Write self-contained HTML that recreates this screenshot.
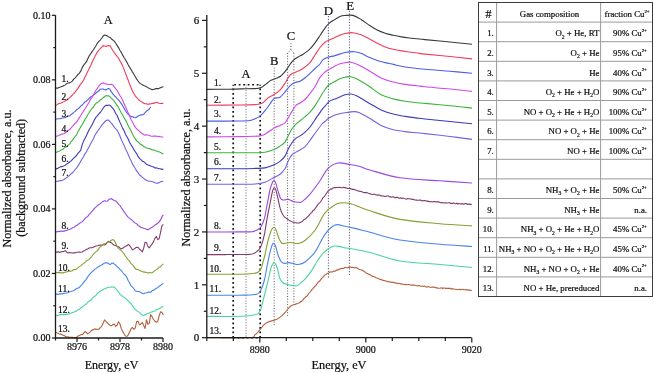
<!DOCTYPE html>
<html><head><meta charset="utf-8"><style>svg{will-change:transform} svg text{stroke:#111;stroke-width:0.22px} html,body{margin:0;padding:0;background:#fff;width:654px;height:373px;overflow:hidden;position:relative}</style></head>
<body><svg width="654" height="373" viewBox="0 0 654 373" style="position:absolute;left:0;top:0"><rect width="654" height="373" fill="#fff"/><path d="M55.50,87.98 L56.90,88.16 L58.30,87.86 L59.70,87.23 L61.10,86.81 L62.50,86.21 L63.90,85.62 L65.30,84.87 L66.70,83.62 L68.10,83.00 L69.50,82.92 L70.90,82.12 L72.30,81.07 L73.70,79.08 L75.10,77.82 L76.50,76.42 L77.90,74.53 L79.30,73.36 L80.70,71.16 L82.10,67.89 L83.50,65.39 L84.90,63.68 L86.30,61.90 L87.70,58.97 L89.10,56.11 L90.50,54.01 L91.90,51.85 L93.30,50.03 L94.70,47.81 L96.10,45.49 L97.50,42.98 L98.90,41.44 L100.30,40.03 L101.70,38.26 L103.10,36.03 L104.50,35.00 L105.90,35.30 L107.30,35.99 L108.70,36.89 L110.10,37.49 L111.50,39.06 L112.90,40.07 L114.30,41.15 L115.70,43.23 L117.10,45.42 L118.50,47.60 L119.90,50.23 L121.30,52.42 L122.70,55.14 L124.10,57.49 L125.50,59.71 L126.90,62.32 L128.30,64.94 L129.70,67.36 L131.10,69.60 L132.50,72.09 L133.90,74.20 L135.30,76.70 L136.70,79.15 L138.10,81.03 L139.50,82.82 L140.90,83.86 L142.30,84.77 L143.70,85.56 L145.10,86.09 L146.50,86.85 L147.90,87.61 L149.30,88.47 L150.70,89.01 L152.10,89.64 L153.50,89.43 L154.90,88.90 L156.30,88.64 L157.70,88.63 L159.10,88.37 L160.50,87.72 L161.90,87.15 L163.30,86.57" fill="none" stroke="#3a3a3a" stroke-width="1.1" stroke-linejoin="round"/><path d="M55.50,105.47 L56.90,104.90 L58.30,103.79 L59.70,103.24 L61.10,103.10 L62.50,102.36 L63.90,101.63 L65.30,100.72 L66.70,100.21 L68.10,99.10 L69.50,97.93 L70.90,96.52 L72.30,95.18 L73.70,93.50 L75.10,92.04 L76.50,90.36 L77.90,88.34 L79.30,86.10 L80.70,84.05 L82.10,82.35 L83.50,80.18 L84.90,77.24 L86.30,74.58 L87.70,71.56 L89.10,68.63 L90.50,65.97 L91.90,62.78 L93.30,59.84 L94.70,57.03 L96.10,54.30 L97.50,51.87 L98.90,49.95 L100.30,48.51 L101.70,47.13 L103.10,45.60 L104.50,46.01 L105.90,46.44 L107.30,45.87 L108.70,45.54 L110.10,45.82 L111.50,48.22 L112.90,50.73 L114.30,52.58 L115.70,54.68 L117.10,56.39 L118.50,57.97 L119.90,60.82 L121.30,63.30 L122.70,66.08 L124.10,69.64 L125.50,73.13 L126.90,77.02 L128.30,80.57 L129.70,84.58 L131.10,87.81 L132.50,90.93 L133.90,93.74 L135.30,95.99 L136.70,97.52 L138.10,99.20 L139.50,100.48 L140.90,101.38 L142.30,102.27 L143.70,103.31 L145.10,103.80 L146.50,103.74 L147.90,104.44 L149.30,103.82 L150.70,103.97 L152.10,103.36 L153.50,103.37 L154.90,102.83 L156.30,102.33 L157.70,102.71 L159.10,103.22 L160.50,103.48 L161.90,103.40 L163.30,103.41" fill="none" stroke="#f03c5a" stroke-width="1.1" stroke-linejoin="round"/><path d="M55.50,118.89 L56.90,118.98 L58.30,118.68 L59.70,118.72 L61.10,118.58 L62.50,117.97 L63.90,117.68 L65.30,117.73 L66.70,116.65 L68.10,116.02 L69.50,116.02 L70.90,114.64 L72.30,113.79 L73.70,112.36 L75.10,111.35 L76.50,109.82 L77.90,108.90 L79.30,107.77 L80.70,106.18 L82.10,105.04 L83.50,103.70 L84.90,101.97 L86.30,101.27 L87.70,99.89 L89.10,98.41 L90.50,97.00 L91.90,96.48 L93.30,94.99 L94.70,94.00 L96.10,92.96 L97.50,91.72 L98.90,90.77 L100.30,89.23 L101.70,88.96 L103.10,89.01 L104.50,89.73 L105.90,89.92 L107.30,89.04 L108.70,88.40 L110.10,89.40 L111.50,92.15 L112.90,93.87 L114.30,95.80 L115.70,96.94 L117.10,98.51 L118.50,99.97 L119.90,101.70 L121.30,103.66 L122.70,105.71 L124.10,108.41 L125.50,110.68 L126.90,112.94 L128.30,114.29 L129.70,115.79 L131.10,116.64 L132.50,116.59 L133.90,117.51 L135.30,117.73 L136.70,116.99 L138.10,116.04 L139.50,115.52 L140.90,114.76 L142.30,114.90 L143.70,114.26 L145.10,112.63 L146.50,111.05 L147.90,110.28 L149.30,108.99 L150.70,106.87" fill="none" stroke="#4c5ee6" stroke-width="1.1" stroke-linejoin="round"/><path d="M55.50,136.72 L56.90,136.07 L58.30,135.72 L59.70,135.00 L61.10,134.38 L62.50,134.07 L63.90,133.79 L65.30,132.77 L66.70,131.80 L68.10,130.48 L69.50,129.76 L70.90,128.21 L72.30,126.52 L73.70,124.86 L75.10,123.32 L76.50,122.20 L77.90,120.01 L79.30,117.87 L80.70,115.74 L82.10,113.20 L83.50,111.08 L84.90,109.00 L86.30,106.77 L87.70,104.55 L89.10,102.26 L90.50,99.35 L91.90,97.36 L93.30,95.04 L94.70,92.56 L96.10,90.03 L97.50,88.15 L98.90,85.80 L100.30,84.45 L101.70,83.32 L103.10,82.91 L104.50,83.23 L105.90,84.14 L107.30,84.19 L108.70,84.47 L110.10,84.52 L111.50,84.36 L112.90,84.89 L114.30,86.94 L115.70,88.74 L117.10,90.47 L118.50,92.74 L119.90,95.59 L121.30,97.55 L122.70,100.32 L124.10,103.85 L125.50,106.74 L126.90,110.05 L128.30,113.17 L129.70,116.23 L131.10,119.74 L132.50,121.95 L133.90,124.86 L135.30,127.19 L136.70,128.89 L138.10,130.04 L139.50,131.45 L140.90,132.76 L142.30,133.51 L143.70,134.66 L145.10,135.15 L146.50,134.83 L147.90,135.05 L149.30,135.42 L150.70,136.04 L152.10,136.18 L153.50,136.00 L154.90,136.15 L156.30,136.13 L157.70,136.42 L159.10,136.21 L160.50,136.75 L161.90,136.98 L163.30,137.11" fill="none" stroke="#cc48e8" stroke-width="1.1" stroke-linejoin="round"/><path d="M55.50,152.69 L56.90,152.10 L58.30,151.46 L59.70,150.89 L61.10,150.07 L62.50,149.53 L63.90,148.12 L65.30,147.27 L66.70,146.44 L68.10,145.08 L69.50,144.09 L70.90,141.94 L72.30,140.34 L73.70,138.33 L75.10,136.68 L76.50,134.85 L77.90,131.88 L79.30,129.44 L80.70,126.90 L82.10,124.77 L83.50,122.19 L84.90,119.44 L86.30,117.56 L87.70,114.77 L89.10,112.78 L90.50,110.46 L91.90,108.49 L93.30,107.22 L94.70,104.87 L96.10,103.16 L97.50,102.58 L98.90,101.39 L100.30,99.87 L101.70,99.22 L103.10,97.78 L104.50,96.74 L105.90,95.57 L107.30,96.01 L108.70,95.77 L110.10,96.82 L111.50,98.33 L112.90,99.48 L114.30,101.34 L115.70,103.29 L117.10,105.36 L118.50,107.57 L119.90,110.23 L121.30,112.94 L122.70,115.00 L124.10,117.91 L125.50,120.12 L126.90,122.67 L128.30,125.82 L129.70,128.39 L131.10,131.06 L132.50,133.94 L133.90,136.87 L135.30,138.89 L136.70,140.93 L138.10,141.67 L139.50,143.52 L140.90,144.63 L142.30,145.10 L143.70,146.65 L145.10,147.07 L146.50,147.94 L147.90,148.26 L149.30,148.63 L150.70,149.07 L152.10,149.96 L153.50,149.77 L154.90,150.51 L156.30,150.98 L157.70,151.60 L159.10,151.81 L160.50,152.45 L161.90,153.20 L163.30,154.00" fill="none" stroke="#3cb43c" stroke-width="1.1" stroke-linejoin="round"/><path d="M55.50,169.11 L56.90,168.64 L58.30,167.92 L59.70,167.28 L61.10,166.61 L62.50,166.59 L63.90,165.88 L65.30,165.14 L66.70,163.93 L68.10,163.27 L69.50,161.98 L70.90,161.13 L72.30,159.70 L73.70,158.10 L75.10,156.81 L76.50,155.53 L77.90,153.43 L79.30,151.92 L80.70,150.34 L82.10,145.07 L83.50,141.32 L84.90,138.46 L86.30,135.79 L87.70,132.66 L89.10,129.71 L90.50,127.58 L91.90,125.00 L93.30,122.17 L94.70,119.34 L96.10,117.03 L97.50,115.65 L98.90,113.72 L100.30,112.50 L101.70,110.45 L103.10,108.19 L104.50,106.52 L105.90,105.37 L107.30,105.41 L108.70,105.04 L110.10,105.41 L111.50,106.90 L112.90,108.34 L114.30,110.51 L115.70,113.43 L117.10,115.57 L118.50,118.77 L119.90,122.14 L121.30,125.13 L122.70,128.36 L124.10,130.81 L125.50,134.17 L126.90,136.72 L128.30,139.23 L129.70,142.41 L131.10,144.84 L132.50,147.10 L133.90,149.65 L135.30,151.70 L136.70,153.85 L138.10,156.41 L139.50,158.39 L140.90,159.62 L142.30,161.16 L143.70,161.64 L145.10,162.87 L146.50,164.28 L147.90,165.08 L149.30,165.39 L150.70,165.97 L152.10,166.50 L153.50,166.85 L154.90,167.99 L156.30,167.85 L157.70,168.35 L159.10,168.79 L160.50,168.76 L161.90,169.39 L163.30,169.09" fill="none" stroke="#3a3abc" stroke-width="1.1" stroke-linejoin="round"/><path d="M55.50,181.68 L56.90,181.26 L58.30,181.32 L59.70,180.62 L61.10,180.65 L62.50,180.24 L63.90,179.57 L65.30,178.83 L66.70,177.45 L68.10,176.68 L69.50,175.37 L70.90,174.04 L72.30,172.77 L73.70,171.54 L75.10,169.54 L76.50,168.11 L77.90,166.03 L79.30,163.89 L80.70,161.27 L82.10,158.78 L83.50,156.83 L84.90,153.83 L86.30,152.05 L87.70,149.30 L89.10,146.85 L90.50,144.12 L91.90,141.43 L93.30,138.96 L94.70,135.69 L96.10,133.34 L97.50,131.44 L98.90,129.31 L100.30,127.48 L101.70,125.29 L103.10,123.60 L104.50,122.02 L105.90,120.67 L107.30,119.91 L108.70,120.35 L110.10,121.76 L111.50,123.43 L112.90,125.08 L114.30,127.17 L115.70,128.83 L117.10,130.23 L118.50,132.84 L119.90,136.04 L121.30,139.51 L122.70,142.60 L124.10,145.42 L125.50,149.03 L126.90,151.53 L128.30,154.82 L129.70,158.14 L131.10,160.80 L132.50,164.11 L133.90,166.18 L135.30,168.72 L136.70,170.89 L138.10,172.85 L139.50,175.03 L140.90,175.82 L142.30,177.27 L143.70,178.38 L145.10,179.55 L146.50,180.18 L147.90,180.82 L149.30,181.27 L150.70,181.31 L152.10,181.81 L153.50,181.88 L154.90,182.82 L156.30,183.27 L157.70,183.16 L159.10,182.63 L160.50,181.84 L161.90,181.49 L163.30,181.28" fill="none" stroke="#7462e4" stroke-width="1.1" stroke-linejoin="round"/><path d="M55.50,231.61 L56.90,232.02 L58.30,231.33 L59.70,231.63 L61.10,231.09 L62.50,231.10 L63.90,231.46 L65.30,230.49 L66.70,230.38 L68.10,229.84 L69.50,229.42 L70.90,228.81 L72.30,227.85 L73.70,227.54 L75.10,226.27 L76.50,225.61 L77.90,224.41 L79.30,223.54 L80.70,222.59 L82.10,221.88 L83.50,220.31 L84.90,218.70 L86.30,217.38 L87.70,216.47 L89.10,214.40 L90.50,213.20 L91.90,211.38 L93.30,209.94 L94.70,208.08 L96.10,206.80 L97.50,205.54 L98.90,204.54 L100.30,203.60 L101.70,202.41 L103.10,201.42 L104.50,200.68 L105.90,201.04 L107.30,201.20 L108.70,199.63 L110.10,198.80 L111.50,198.84 L112.90,199.68 L114.30,200.53 L115.70,200.85 L117.10,202.43 L118.50,204.33 L119.90,205.34 L121.30,207.82 L122.70,209.44 L124.10,211.94 L125.50,213.75 L126.90,215.68 L128.30,217.36 L129.70,218.43 L131.10,219.40 L132.50,220.55 L133.90,221.99 L135.30,223.13 L136.70,223.85 L138.10,225.46 L139.50,226.21 L140.90,227.37 L142.30,227.74 L143.70,228.27 L145.10,228.62 L146.50,229.37 L147.90,229.84 L149.30,228.98 L150.70,227.98 L152.10,227.33 L153.50,226.47 L154.90,225.06 L156.30,224.31 L157.70,223.25 L159.10,222.14 L160.50,219.90 L161.90,216.90 L163.30,214.84" fill="none" stroke="#9a48e0" stroke-width="1.1" stroke-linejoin="round"/><path d="M55.50,252.17 L56.90,252.09 L58.30,251.87 L59.70,252.53 L61.10,251.76 L62.50,251.67 L63.90,251.35 L65.30,250.65 L66.70,252.09 L68.10,253.00 L69.50,252.44 L70.90,252.70 L72.30,252.95 L73.70,252.68 L75.10,252.84 L76.50,252.22 L77.90,252.19 L79.30,251.97 L80.70,252.21 L82.10,251.93 L83.50,250.93 L84.90,250.40 L86.30,249.35 L87.70,249.06 L89.10,248.03 L90.50,247.75 L91.90,247.64 L93.30,247.23 L94.70,246.58 L96.10,245.93 L97.50,245.74 L98.90,245.34 L100.30,245.07 L101.70,245.35 L103.10,244.60 L104.50,245.02 L105.90,244.19 L107.30,242.27 L108.70,241.39 L110.10,242.38 L111.50,242.84 L112.90,244.09 L114.30,245.32 L115.70,245.33 L117.10,246.48 L118.50,246.76 L119.90,247.87 L121.30,248.86 L122.70,248.25 L124.10,247.18 L125.50,246.36 L126.90,245.80 L128.30,244.37 L129.70,245.61 L131.10,247.74 L132.50,249.88 L133.90,249.17 L135.30,248.08 L136.70,247.23 L138.10,247.42 L139.50,249.23 L140.90,250.23 L142.30,252.00 L143.70,248.12 L145.10,242.19 L146.50,242.57 L147.90,246.34 L149.30,247.92 L150.70,245.71 L152.10,244.05 L153.50,241.61 L154.90,238.38 L156.30,236.46 L157.70,239.64 L159.10,238.82 L160.50,232.59 L161.90,225.87 L163.30,224.43" fill="none" stroke="#843a6c" stroke-width="1.1" stroke-linejoin="round"/><path d="M55.50,272.66 L56.90,272.54 L58.30,272.66 L59.70,272.36 L61.10,272.85 L62.50,272.86 L63.90,272.65 L65.30,271.93 L66.70,271.89 L68.10,271.41 L69.50,271.02 L70.90,271.17 L72.30,270.75 L73.70,269.54 L75.10,269.74 L76.50,269.08 L77.90,267.81 L79.30,266.64 L80.70,265.86 L82.10,264.59 L83.50,263.66 L84.90,262.50 L86.30,260.93 L87.70,260.30 L89.10,259.33 L90.50,257.96 L91.90,256.25 L93.30,254.37 L94.70,252.92 L96.10,251.56 L97.50,250.59 L98.90,248.47 L100.30,246.90 L101.70,245.71 L103.10,244.21 L104.50,243.81 L105.90,243.13 L107.30,242.24 L108.70,242.07 L110.10,241.50 L111.50,240.18 L112.90,239.47 L114.30,240.63 L115.70,243.13 L117.10,246.30 L118.50,248.61 L119.90,249.55 L121.30,250.52 L122.70,252.28 L124.10,253.80 L125.50,256.21 L126.90,258.03 L128.30,259.97 L129.70,261.33 L131.10,263.61 L132.50,264.80 L133.90,266.58 L135.30,268.60 L136.70,269.41 L138.10,269.70 L139.50,270.38 L140.90,270.95 L142.30,271.46 L143.70,272.10 L145.10,272.11 L146.50,272.43 L147.90,273.06 L149.30,272.63 L150.70,272.82 L152.10,272.76 L153.50,271.80 L154.90,270.63 L156.30,269.60 L157.70,268.74 L159.10,267.37 L160.50,266.70 L161.90,265.17 L163.30,263.93" fill="none" stroke="#84a234" stroke-width="1.1" stroke-linejoin="round"/><path d="M55.50,294.16 L56.90,294.16 L58.30,294.37 L59.70,293.91 L61.10,293.86 L62.50,293.84 L63.90,293.37 L65.30,293.25 L66.70,292.96 L68.10,292.71 L69.50,291.77 L70.90,291.55 L72.30,291.00 L73.70,290.75 L75.10,289.80 L76.50,288.41 L77.90,288.31 L79.30,287.43 L80.70,285.80 L82.10,284.34 L83.50,282.55 L84.90,280.88 L86.30,279.28 L87.70,276.89 L89.10,274.98 L90.50,273.48 L91.90,271.89 L93.30,270.81 L94.70,269.37 L96.10,268.40 L97.50,267.31 L98.90,266.58 L100.30,265.63 L101.70,264.93 L103.10,263.94 L104.50,262.97 L105.90,262.71 L107.30,262.83 L108.70,263.78 L110.10,264.60 L111.50,263.39 L112.90,262.99 L114.30,264.13 L115.70,265.05 L117.10,266.69 L118.50,267.63 L119.90,269.42 L121.30,270.49 L122.70,272.52 L124.10,274.19 L125.50,275.27 L126.90,277.52 L128.30,280.75 L129.70,283.07 L131.10,285.90 L132.50,287.22 L133.90,288.75 L135.30,290.71 L136.70,291.35 L138.10,291.46 L139.50,291.83 L140.90,292.54 L142.30,293.57 L143.70,293.75 L145.10,292.95 L146.50,292.78 L147.90,292.38 L149.30,292.07 L150.70,292.25 L152.10,290.86 L153.50,290.27 L154.90,289.29 L156.30,288.19 L157.70,287.70 L159.10,286.20 L160.50,285.59 L161.90,284.15 L163.30,283.38" fill="none" stroke="#4a84e8" stroke-width="1.1" stroke-linejoin="round"/><path d="M55.50,315.68 L56.90,315.63 L58.30,315.45 L59.70,314.83 L61.10,314.53 L62.50,314.63 L63.90,314.37 L65.30,314.62 L66.70,314.34 L68.10,314.09 L69.50,313.75 L70.90,313.38 L72.30,312.50 L73.70,312.28 L75.10,311.36 L76.50,311.17 L77.90,309.70 L79.30,309.51 L80.70,307.86 L82.10,307.27 L83.50,305.92 L84.90,304.88 L86.30,304.07 L87.70,302.25 L89.10,301.13 L90.50,300.53 L91.90,298.81 L93.30,297.07 L94.70,296.39 L96.10,295.14 L97.50,293.31 L98.90,292.40 L100.30,291.01 L101.70,290.37 L103.10,289.84 L104.50,288.69 L105.90,288.44 L107.30,287.50 L108.70,287.18 L110.10,287.28 L111.50,286.92 L112.90,286.94 L114.30,287.08 L115.70,288.51 L117.10,290.37 L118.50,292.03 L119.90,294.03 L121.30,295.38 L122.70,296.54 L124.10,297.45 L125.50,298.39 L126.90,299.58 L128.30,301.02 L129.70,302.34 L131.10,303.74 L132.50,305.68 L133.90,307.63 L135.30,309.31 L136.70,310.70 L138.10,311.61 L139.50,312.39 L140.90,314.13 L142.30,314.90 L143.70,315.66 L145.10,314.70 L146.50,314.13 L147.90,313.37 L149.30,313.09 L150.70,312.10 L152.10,312.00 L153.50,311.24 L154.90,311.02 L156.30,309.80 L157.70,309.31 L159.10,308.68 L160.50,308.08 L161.90,306.79 L163.30,306.29" fill="none" stroke="#48d49c" stroke-width="1.1" stroke-linejoin="round"/><path d="M55.50,331.98 L56.90,332.90 L58.30,333.44 L59.70,334.12 L61.10,334.17 L62.50,334.91 L63.90,335.53 L65.30,336.30 L66.70,337.06 L68.10,336.78 L69.50,337.40 L70.90,337.34 L72.30,337.42 L73.70,337.54 L75.10,337.90 L76.50,337.37 L77.90,336.08 L79.30,335.55 L80.70,334.75 L82.10,334.72 L83.50,333.47 L84.90,331.58 L86.30,332.44 L87.70,333.82 L89.10,332.89 L90.50,331.64 L91.90,330.12 L93.30,329.91 L94.70,328.85 L96.10,329.21 L97.50,329.40 L98.90,329.14 L100.30,327.68 L101.70,326.34 L103.10,323.35 L104.50,319.89 L105.90,321.49 L107.30,322.76 L108.70,324.24 L110.10,325.37 L111.50,325.85 L112.90,324.62 L114.30,324.08 L115.70,326.45 L117.10,325.24 L118.50,321.84 L119.90,323.74 L121.30,328.72 L122.70,331.40 L124.10,334.02 L125.50,336.03 L126.90,336.33 L128.30,334.81 L129.70,331.69 L131.10,328.66 L132.50,327.51 L133.90,329.29 L135.30,327.85 L136.70,321.45 L138.10,321.24 L139.50,324.85 L140.90,323.95 L142.30,322.37 L143.70,325.47 L145.10,328.39 L146.50,319.69 L147.90,324.42 L149.30,323.35 L150.70,314.66 L152.10,316.74 L153.50,319.48 L154.90,321.25 L156.30,322.30 L157.70,321.58 L159.10,316.16 L160.50,311.86 L161.90,312.25 L163.30,314.93" fill="none" stroke="#b0603c" stroke-width="1.1" stroke-linejoin="round"/><path d="M55.5,15.3 V338 H163" fill="none" stroke="#1a1a1a" stroke-width="1.3"/><line x1="51.9" y1="338.00" x2="55.5" y2="338.00" stroke="#1a1a1a" stroke-width="1.2"/><line x1="53.3" y1="305.73" x2="55.5" y2="305.73" stroke="#1a1a1a" stroke-width="1.2"/><line x1="51.9" y1="273.46" x2="55.5" y2="273.46" stroke="#1a1a1a" stroke-width="1.2"/><line x1="53.3" y1="241.19" x2="55.5" y2="241.19" stroke="#1a1a1a" stroke-width="1.2"/><line x1="51.9" y1="208.92" x2="55.5" y2="208.92" stroke="#1a1a1a" stroke-width="1.2"/><line x1="53.3" y1="176.65" x2="55.5" y2="176.65" stroke="#1a1a1a" stroke-width="1.2"/><line x1="51.9" y1="144.38" x2="55.5" y2="144.38" stroke="#1a1a1a" stroke-width="1.2"/><line x1="53.3" y1="112.11" x2="55.5" y2="112.11" stroke="#1a1a1a" stroke-width="1.2"/><line x1="51.9" y1="79.84" x2="55.5" y2="79.84" stroke="#1a1a1a" stroke-width="1.2"/><line x1="53.3" y1="47.57" x2="55.5" y2="47.57" stroke="#1a1a1a" stroke-width="1.2"/><line x1="51.9" y1="15.30" x2="55.5" y2="15.30" stroke="#1a1a1a" stroke-width="1.2"/><text x="50.5" y="341.40" font-family="'Liberation Serif', serif" font-size="10" text-anchor="end" fill="#111">0.00</text><text x="50.5" y="276.86" font-family="'Liberation Serif', serif" font-size="10" text-anchor="end" fill="#111">0.02</text><text x="50.5" y="212.32" font-family="'Liberation Serif', serif" font-size="10" text-anchor="end" fill="#111">0.04</text><text x="50.5" y="147.78" font-family="'Liberation Serif', serif" font-size="10" text-anchor="end" fill="#111">0.06</text><text x="50.5" y="83.24" font-family="'Liberation Serif', serif" font-size="10" text-anchor="end" fill="#111">0.08</text><text x="50.5" y="18.70" font-family="'Liberation Serif', serif" font-size="10" text-anchor="end" fill="#111">0.10</text><line x1="55.50" y1="338" x2="55.50" y2="340.5" stroke="#1a1a1a" stroke-width="1.2"/><line x1="77.00" y1="338" x2="77.00" y2="342" stroke="#1a1a1a" stroke-width="1.2"/><line x1="98.50" y1="338" x2="98.50" y2="340.5" stroke="#1a1a1a" stroke-width="1.2"/><line x1="120.00" y1="338" x2="120.00" y2="342" stroke="#1a1a1a" stroke-width="1.2"/><line x1="141.50" y1="338" x2="141.50" y2="340.5" stroke="#1a1a1a" stroke-width="1.2"/><line x1="163.00" y1="338" x2="163.00" y2="342" stroke="#1a1a1a" stroke-width="1.2"/><text x="77.00" y="350.2" font-family="'Liberation Serif', serif" font-size="10" text-anchor="middle" fill="#111">8976</text><text x="120.00" y="350.2" font-family="'Liberation Serif', serif" font-size="10" text-anchor="middle" fill="#111">8978</text><text x="163.00" y="350.2" font-family="'Liberation Serif', serif" font-size="10" text-anchor="middle" fill="#111">8980</text><text x="111.5" y="368.6" font-family="'Liberation Serif', serif" font-size="12" text-anchor="middle" fill="#111">Energy, eV</text><text x="108.3" y="23.7" font-family="'Liberation Serif', serif" font-size="12.4" text-anchor="middle" fill="#111">A</text><text x="61.4" y="81.50" font-family="'Liberation Serif', serif" font-size="9.5" fill="#111">1.</text><text x="61.4" y="99.50" font-family="'Liberation Serif', serif" font-size="9.5" fill="#111">2.</text><text x="61.4" y="117.00" font-family="'Liberation Serif', serif" font-size="9.5" fill="#111">3.</text><text x="61.4" y="131.60" font-family="'Liberation Serif', serif" font-size="9.5" fill="#111">4.</text><text x="61.4" y="147.20" font-family="'Liberation Serif', serif" font-size="9.5" fill="#111">5.</text><text x="61.4" y="162.30" font-family="'Liberation Serif', serif" font-size="9.5" fill="#111">6.</text><text x="61.4" y="176.30" font-family="'Liberation Serif', serif" font-size="9.5" fill="#111">7.</text><text x="61.4" y="228.70" font-family="'Liberation Serif', serif" font-size="9.5" fill="#111">8.</text><text x="61.4" y="249.00" font-family="'Liberation Serif', serif" font-size="9.5" fill="#111">9.</text><text x="58" y="271.40" font-family="'Liberation Serif', serif" font-size="9.5" fill="#111">10.</text><text x="58" y="291.80" font-family="'Liberation Serif', serif" font-size="9.5" fill="#111">11.</text><text x="58" y="313.00" font-family="'Liberation Serif', serif" font-size="9.5" fill="#111">12.</text><text x="58" y="332.20" font-family="'Liberation Serif', serif" font-size="9.5" fill="#111">13.</text><text transform="translate(10.6,178.5) rotate(-90)" font-family="'Liberation Serif', serif" font-size="12.1" text-anchor="middle" fill="#111">Normalized absorbance, a.u.</text><text transform="translate(24.8,177.8) rotate(-90)" font-family="'Liberation Serif', serif" font-size="12.1" text-anchor="middle" fill="#111">(background subtracted)</text><text transform="translate(189.5,177.6) rotate(-90)" font-family="'Liberation Serif', serif" font-size="12.1" text-anchor="middle" fill="#111">Normalized absorbance, a.u.</text><line x1="246" y1="84.5" x2="246" y2="337.7" stroke="#555" stroke-width="0.9" stroke-dasharray="1 1.7"/><line x1="274.2" y1="67.7" x2="274.2" y2="325.4" stroke="#444" stroke-width="0.9" stroke-dasharray="1 1.7"/><line x1="287.6" y1="53" x2="287.6" y2="317.4" stroke="#444" stroke-width="0.9" stroke-dasharray="1 1.7"/><line x1="293.9" y1="53" x2="293.9" y2="306.7" stroke="#444" stroke-width="0.9" stroke-dasharray="1 1.7"/><path d="M290.9,43.3 V49.7 L287.6,53 M290.9,49.7 L293.9,53" fill="none" stroke="#444" stroke-width="0.9" stroke-dasharray="1 1.7"/><line x1="328.4" y1="16" x2="328.4" y2="279" stroke="#3c4470" stroke-width="0.9" stroke-dasharray="1.2 1.6"/><line x1="349.4" y1="10.7" x2="349.4" y2="275" stroke="#3c4470" stroke-width="0.9" stroke-dasharray="1.2 1.6"/><path d="M233.2,337.7 V84.7" fill="none" stroke="#111" stroke-width="1.7" stroke-dasharray="1.8 2.7"/><path d="M260.2,337.7 V84.7" fill="none" stroke="#111" stroke-width="1.7" stroke-dasharray="1.8 2.7"/><path d="M234.2,84.7 H259.5" fill="none" stroke="#111" stroke-width="1.6" stroke-dasharray="1.8 2.7"/><path d="M233.2,337.7 H260.2" fill="none" stroke="#111" stroke-width="1.6" stroke-dasharray="1.8 2.7"/><path d="M206.70,89.40 C210.58,89.37 223.45,89.30 230.00,89.20 C236.55,89.10 241.83,88.90 246.00,88.80 C250.17,88.70 253.00,88.67 255.00,88.60 C257.00,88.53 256.97,88.57 258.00,88.40 C259.03,88.23 260.13,88.13 261.20,87.60 C262.27,87.07 263.33,86.00 264.40,85.20 C265.47,84.40 266.52,83.62 267.60,82.80 C268.68,81.98 269.82,80.92 270.90,80.30 C271.98,79.68 273.03,79.50 274.10,79.10 C275.17,78.70 276.23,78.37 277.30,77.90 C278.37,77.43 279.43,77.10 280.50,76.30 C281.57,75.50 282.63,74.30 283.70,73.10 C284.77,71.90 285.83,70.57 286.90,69.10 C287.97,67.63 289.03,65.77 290.10,64.30 C291.17,62.83 291.98,61.52 293.30,60.30 C294.62,59.08 296.55,57.88 298.00,57.00 C299.45,56.12 300.83,55.68 302.00,55.00 C303.17,54.32 303.67,53.92 305.00,52.90 C306.33,51.88 308.33,50.58 310.00,48.90 C311.67,47.22 313.33,45.03 315.00,42.80 C316.67,40.57 318.33,37.95 320.00,35.50 C321.67,33.05 323.50,30.12 325.00,28.10 C326.50,26.08 327.33,24.85 329.00,23.40 C330.67,21.95 333.17,20.57 335.00,19.40 C336.83,18.23 338.33,17.05 340.00,16.40 C341.67,15.75 342.83,15.67 345.00,15.50 C347.17,15.33 350.32,14.73 353.00,15.40 C355.68,16.07 358.42,17.88 361.10,19.50 C363.78,21.12 366.42,23.35 369.10,25.10 C371.78,26.85 374.52,28.65 377.20,30.00 C379.88,31.35 382.52,32.32 385.20,33.20 C387.88,34.08 390.62,34.68 393.30,35.30 C395.98,35.92 398.62,36.45 401.30,36.90 C403.98,37.35 406.72,37.68 409.40,38.00 C412.08,38.32 414.80,38.53 417.40,38.80 C420.00,39.07 419.57,39.07 425.00,39.60 C430.43,40.13 442.17,41.22 450.00,42.00 C457.83,42.78 468.33,43.92 472.00,44.30" fill="none" stroke="#3a3a3a" stroke-width="1.1" stroke-linejoin="round"/><path d="M206.70,105.20 C212.25,105.17 231.95,105.10 240.00,105.00 C248.05,104.90 251.33,104.88 255.00,104.60 C258.67,104.32 259.83,104.42 262.00,103.30 C264.17,102.18 266.00,99.37 268.00,97.90 C270.00,96.43 272.00,95.80 274.00,94.50 C276.00,93.20 278.17,91.98 280.00,90.10 C281.83,88.22 283.33,85.70 285.00,83.20 C286.67,80.70 288.33,76.90 290.00,75.10 C291.67,73.30 293.33,73.22 295.00,72.40 C296.67,71.58 298.33,71.10 300.00,70.20 C301.67,69.30 303.33,68.25 305.00,67.00 C306.67,65.75 308.33,64.70 310.00,62.70 C311.67,60.70 313.33,57.53 315.00,55.00 C316.67,52.47 318.33,49.63 320.00,47.50 C321.67,45.37 323.50,43.42 325.00,42.20 C326.50,40.98 327.33,40.98 329.00,40.20 C330.67,39.42 333.17,38.33 335.00,37.50 C336.83,36.67 338.33,35.87 340.00,35.20 C341.67,34.53 342.83,33.92 345.00,33.50 C347.17,33.08 350.32,32.48 353.00,32.70 C355.68,32.92 358.42,33.78 361.10,34.80 C363.78,35.82 366.42,37.38 369.10,38.80 C371.78,40.22 374.52,41.95 377.20,43.30 C379.88,44.65 382.52,45.90 385.20,46.90 C387.88,47.90 390.62,48.63 393.30,49.30 C395.98,49.97 398.62,50.45 401.30,50.90 C403.98,51.35 406.72,51.65 409.40,52.00 C412.08,52.35 414.80,52.65 417.40,53.00 C420.00,53.35 419.57,53.52 425.00,54.10 C430.43,54.68 442.17,55.70 450.00,56.50 C457.83,57.30 468.33,58.50 472.00,58.90" fill="none" stroke="#f03c5a" stroke-width="1.1" stroke-linejoin="round"/><path d="M206.70,121.10 C212.25,121.08 232.78,121.10 240.00,121.00 C247.22,120.90 247.50,120.87 250.00,120.50 C252.50,120.13 253.33,119.53 255.00,118.80 C256.67,118.07 258.33,117.45 260.00,116.10 C261.67,114.75 263.33,112.72 265.00,110.70 C266.67,108.68 268.50,106.02 270.00,104.00 C271.50,101.98 272.33,99.73 274.00,98.60 C275.67,97.47 278.17,98.32 280.00,97.20 C281.83,96.08 283.33,93.80 285.00,91.90 C286.67,90.00 288.33,87.37 290.00,85.80 C291.67,84.23 293.33,83.27 295.00,82.50 C296.67,81.73 298.33,81.98 300.00,81.20 C301.67,80.42 303.33,79.10 305.00,77.80 C306.67,76.50 308.33,74.95 310.00,73.40 C311.67,71.85 313.33,70.07 315.00,68.50 C316.67,66.93 318.67,65.48 320.00,64.00 C321.33,62.52 321.67,60.73 323.00,59.60 C324.33,58.47 326.00,57.87 328.00,57.20 C330.00,56.53 332.17,56.38 335.00,55.60 C337.83,54.82 341.72,53.15 345.00,52.50 C348.28,51.85 352.02,51.57 354.70,51.70 C357.38,51.83 358.70,52.37 361.10,53.30 C363.50,54.23 366.42,56.10 369.10,57.30 C371.78,58.50 374.52,59.62 377.20,60.50 C379.88,61.38 382.52,61.95 385.20,62.60 C387.88,63.25 389.97,63.67 393.30,64.40 C396.63,65.13 399.92,66.18 405.20,67.00 C410.48,67.82 417.53,68.58 425.00,69.30 C432.47,70.02 442.17,70.65 450.00,71.30 C457.83,71.95 468.33,72.88 472.00,73.20" fill="none" stroke="#4c5ee6" stroke-width="1.1" stroke-linejoin="round"/><path d="M206.70,136.90 C212.25,136.85 231.95,136.72 240.00,136.60 C248.05,136.48 251.67,136.32 255.00,136.20 C258.33,136.08 258.33,136.23 260.00,135.90 C261.67,135.57 263.33,135.05 265.00,134.20 C266.67,133.35 268.33,131.92 270.00,130.80 C271.67,129.68 273.33,128.38 275.00,127.50 C276.67,126.62 278.33,126.28 280.00,125.50 C281.67,124.72 283.67,124.03 285.00,122.80 C286.33,121.57 286.83,120.00 288.00,118.10 C289.17,116.20 290.67,113.52 292.00,111.40 C293.33,109.28 294.67,106.80 296.00,105.40 C297.33,104.00 298.50,103.98 300.00,103.00 C301.50,102.02 303.33,101.08 305.00,99.50 C306.67,97.92 308.33,95.62 310.00,93.50 C311.67,91.38 313.33,89.48 315.00,86.80 C316.67,84.12 318.33,79.87 320.00,77.40 C321.67,74.93 323.50,73.33 325.00,72.00 C326.50,70.67 327.33,70.40 329.00,69.40 C330.67,68.40 333.17,66.93 335.00,66.00 C336.83,65.07 338.33,64.35 340.00,63.80 C341.67,63.25 343.17,62.97 345.00,62.70 C346.83,62.43 349.00,61.95 351.00,62.20 C353.00,62.45 353.98,62.78 357.00,64.20 C360.02,65.62 365.08,68.42 369.10,70.70 C373.12,72.98 377.08,76.02 381.10,77.90 C385.12,79.78 389.18,80.92 393.20,82.00 C397.22,83.08 401.18,83.77 405.20,84.40 C409.22,85.03 414.00,85.40 417.30,85.80 C420.60,86.20 419.55,86.27 425.00,86.80 C430.45,87.33 442.17,88.23 450.00,89.00 C457.83,89.77 468.33,91.00 472.00,91.40" fill="none" stroke="#cc48e8" stroke-width="1.1" stroke-linejoin="round"/><path d="M206.70,152.80 C212.25,152.78 231.95,152.72 240.00,152.70 C248.05,152.68 250.83,152.77 255.00,152.70 C259.17,152.63 261.83,152.83 265.00,152.30 C268.17,151.77 271.50,150.53 274.00,149.50 C276.50,148.47 278.17,147.33 280.00,146.10 C281.83,144.87 283.67,143.75 285.00,142.10 C286.33,140.45 286.83,138.42 288.00,136.20 C289.17,133.98 290.67,130.82 292.00,128.80 C293.33,126.78 294.67,125.43 296.00,124.10 C297.33,122.77 298.50,122.02 300.00,120.80 C301.50,119.58 303.33,118.23 305.00,116.80 C306.67,115.37 308.33,114.07 310.00,112.20 C311.67,110.33 313.33,108.05 315.00,105.60 C316.67,103.15 318.33,100.18 320.00,97.50 C321.67,94.82 323.50,91.62 325.00,89.50 C326.50,87.38 327.33,86.15 329.00,84.80 C330.67,83.45 333.17,82.40 335.00,81.40 C336.83,80.40 338.33,79.50 340.00,78.80 C341.67,78.10 343.17,77.55 345.00,77.20 C346.83,76.85 349.00,76.38 351.00,76.70 C353.00,77.02 353.98,77.50 357.00,79.10 C360.02,80.70 365.08,83.68 369.10,86.30 C373.12,88.92 377.08,92.70 381.10,94.80 C385.12,96.90 389.18,97.82 393.20,98.90 C397.22,99.98 401.18,100.67 405.20,101.30 C409.22,101.93 414.00,102.35 417.30,102.70 C420.60,103.05 419.55,102.90 425.00,103.40 C430.45,103.90 442.17,104.92 450.00,105.70 C457.83,106.48 468.33,107.70 472.00,108.10" fill="none" stroke="#3cb43c" stroke-width="1.1" stroke-linejoin="round"/><path d="M206.70,168.80 C212.25,168.78 231.95,168.77 240.00,168.70 C248.05,168.63 250.83,168.53 255.00,168.40 C259.17,168.27 261.83,168.50 265.00,167.90 C268.17,167.30 271.50,165.88 274.00,164.80 C276.50,163.72 278.17,162.85 280.00,161.40 C281.83,159.95 283.67,158.10 285.00,156.10 C286.33,154.10 286.83,151.63 288.00,149.40 C289.17,147.17 290.67,144.57 292.00,142.70 C293.33,140.83 294.67,139.33 296.00,138.20 C297.33,137.07 298.50,136.90 300.00,135.90 C301.50,134.90 303.33,133.68 305.00,132.20 C306.67,130.72 308.33,129.08 310.00,127.00 C311.67,124.92 313.00,122.60 315.00,119.70 C317.00,116.80 320.33,111.85 322.00,109.60 C323.67,107.35 323.83,107.53 325.00,106.20 C326.17,104.87 327.33,102.82 329.00,101.60 C330.67,100.38 333.17,99.68 335.00,98.90 C336.83,98.12 338.33,97.58 340.00,96.90 C341.67,96.22 343.17,95.28 345.00,94.80 C346.83,94.32 349.00,93.80 351.00,94.00 C353.00,94.20 353.98,94.47 357.00,96.00 C360.02,97.53 365.08,100.88 369.10,103.20 C373.12,105.52 377.08,108.10 381.10,109.90 C385.12,111.70 389.18,112.92 393.20,114.00 C397.22,115.08 401.18,115.72 405.20,116.40 C409.22,117.08 414.00,117.67 417.30,118.10 C420.60,118.53 419.55,118.43 425.00,119.00 C430.45,119.57 442.17,120.70 450.00,121.50 C457.83,122.30 468.33,123.42 472.00,123.80" fill="none" stroke="#3a3abc" stroke-width="1.1" stroke-linejoin="round"/><path d="M206.70,184.30 C212.25,184.28 231.95,184.25 240.00,184.20 C248.05,184.15 250.83,184.33 255.00,184.00 C259.17,183.67 261.83,183.28 265.00,182.20 C268.17,181.12 271.50,178.83 274.00,177.50 C276.50,176.17 278.17,175.65 280.00,174.20 C281.83,172.75 283.67,170.93 285.00,168.80 C286.33,166.67 286.83,163.75 288.00,161.40 C289.17,159.05 290.67,156.25 292.00,154.70 C293.33,153.15 294.67,152.88 296.00,152.10 C297.33,151.32 298.50,150.90 300.00,150.00 C301.50,149.10 303.33,148.32 305.00,146.70 C306.67,145.08 308.17,142.75 310.00,140.30 C311.83,137.85 314.00,134.72 316.00,132.00 C318.00,129.28 320.50,125.75 322.00,124.00 C323.50,122.25 323.83,122.50 325.00,121.50 C326.17,120.50 327.33,119.08 329.00,118.00 C330.67,116.92 332.33,115.87 335.00,115.00 C337.67,114.13 341.73,113.37 345.00,112.80 C348.27,112.23 352.18,111.60 354.60,111.60 C357.02,111.60 357.08,111.72 359.50,112.80 C361.92,113.88 365.50,116.00 369.10,118.10 C372.70,120.20 377.08,123.47 381.10,125.40 C385.12,127.33 389.18,128.67 393.20,129.70 C397.22,130.73 401.18,131.08 405.20,131.60 C409.22,132.12 414.00,132.47 417.30,132.80 C420.60,133.13 419.55,132.98 425.00,133.60 C430.45,134.22 442.17,135.53 450.00,136.50 C457.83,137.47 468.33,138.92 472.00,139.40" fill="none" stroke="#7462e4" stroke-width="1.1" stroke-linejoin="round"/><path d="M206.70,232.00 C212.25,231.98 232.45,231.95 240.00,231.90 C247.55,231.85 249.00,232.08 252.00,231.70 C255.00,231.32 256.47,230.48 258.00,229.60 C259.53,228.72 260.13,228.27 261.20,226.40 C262.27,224.53 263.33,222.42 264.40,218.40 C265.47,214.38 266.67,207.12 267.60,202.30 C268.53,197.48 269.18,192.85 270.00,189.50 C270.82,186.15 271.82,183.68 272.50,182.20 C273.18,180.72 273.57,180.47 274.10,180.60 C274.63,180.73 275.03,181.25 275.70,183.00 C276.37,184.75 277.30,188.55 278.10,191.10 C278.90,193.65 279.70,196.83 280.50,198.30 C281.30,199.77 282.10,199.63 282.90,199.90 C283.70,200.17 284.50,200.03 285.30,199.90 C286.10,199.77 286.90,199.10 287.70,199.10 C288.50,199.10 289.17,199.50 290.10,199.90 C291.03,200.30 291.98,201.12 293.30,201.50 C294.62,201.88 296.55,202.18 298.00,202.20 C299.45,202.22 300.00,202.95 302.00,201.60 C304.00,200.25 307.00,197.58 310.00,194.10 C313.00,190.62 317.00,184.97 320.00,180.70 C323.00,176.43 325.00,171.45 328.00,168.50 C331.00,165.55 334.33,163.67 338.00,163.00 C341.67,162.33 346.33,163.92 350.00,164.50 C353.67,165.08 356.67,165.58 360.00,166.50 C363.33,167.42 363.33,168.12 370.00,170.00 C376.67,171.88 388.33,176.00 400.00,177.80 C411.67,179.60 428.00,179.93 440.00,180.80 C452.00,181.67 466.67,182.63 472.00,183.00" fill="none" stroke="#9a48e0" stroke-width="1.1" stroke-linejoin="round"/><path d="M206.70,254.60 L207.70,254.60 L208.70,254.60 L209.70,254.59 L210.70,254.59 L211.70,254.59 L212.70,254.59 L213.70,254.59 L214.70,254.59 L215.70,254.59 L216.70,254.59 L217.70,254.59 L218.70,254.59 L219.70,254.59 L220.70,254.58 L221.70,254.58 L222.70,254.58 L223.70,254.58 L224.70,254.58 L225.70,254.58 L226.70,254.57 L227.70,254.57 L228.70,254.57 L229.70,254.56 L230.70,254.56 L231.70,254.56 L232.70,254.55 L233.70,254.55 L234.70,254.54 L235.70,254.54 L236.70,254.53 L237.70,254.52 L238.70,254.51 L239.70,254.50 L240.70,254.49 L241.70,254.48 L242.70,254.48 L243.70,254.47 L244.70,254.47 L245.70,254.47 L246.70,254.47 L247.70,254.46 L248.70,254.43 L249.70,254.36 L250.70,254.24 L251.70,254.06 L252.70,253.82 L253.70,253.48 L254.70,253.02 L255.70,252.41 L256.70,251.65 L257.70,250.77 L258.70,249.84 L259.70,248.68 L260.70,246.88 L261.70,244.35 L262.70,241.22 L263.70,237.50 L264.70,233.03 L265.70,227.07 L266.70,220.60 L267.70,215.07 L268.70,210.02 L269.70,205.36 L270.70,200.20 L271.70,194.85 L272.70,190.36 L273.70,188.16 L274.70,187.81 L275.70,189.50 L276.70,193.13 L277.70,197.40 L278.70,201.83 L279.70,206.55 L280.70,210.08 L281.70,212.57 L282.70,214.49 L283.70,216.00 L284.70,217.10 L285.70,217.89 L286.70,218.55 L287.70,219.20 L288.70,219.92 L289.70,220.60 L290.70,221.17 L291.70,221.60 L292.70,221.94 L293.70,222.24 L294.70,222.51 L295.70,222.73 L296.70,222.90 L297.70,222.99 L298.70,222.99 L299.70,222.85 L300.70,222.19 L301.70,221.68 L302.70,221.01 L303.70,219.81 L304.70,219.32 L305.70,218.85 L306.70,217.57 L307.70,216.57 L308.70,215.81 L309.70,214.47 L310.70,213.23 L311.70,212.62 L312.70,210.86 L313.70,210.33 L314.70,209.13 L315.70,207.61 L316.70,206.35 L317.70,204.70 L318.70,203.55 L319.70,202.82 L320.70,201.49 L321.70,200.03 L322.70,198.15 L323.70,197.22 L324.70,196.00 L325.70,194.49 L326.70,193.01 L327.70,191.67 L328.70,190.68 L329.70,189.64 L330.70,188.87 L331.70,189.14 L332.70,188.16 L333.70,187.75 L334.70,187.49 L335.70,187.64 L336.70,187.44 L337.70,187.30 L338.70,187.52 L339.70,187.40 L340.70,187.58 L341.70,187.76 L342.70,187.69 L343.70,187.19 L344.70,187.65 L345.70,187.86 L346.70,188.07 L347.70,188.46 L348.70,188.50 L349.70,188.37 L350.70,188.64 L351.70,189.15 L352.70,189.39 L353.70,189.31 L354.70,189.62 L355.70,190.11 L356.70,190.29 L357.70,190.74 L358.70,191.20 L359.70,191.10 L360.70,191.53 L361.70,191.46 L362.70,192.29 L363.70,192.45 L364.70,192.62 L365.70,192.62 L366.70,192.63 L367.70,193.00 L368.70,193.22 L369.70,193.88 L370.70,193.90 L371.70,194.33 L372.70,194.58 L373.70,194.15 L374.70,194.22 L375.70,194.90 L376.70,194.79 L377.70,195.31 L378.70,195.12 L379.70,195.07 L380.70,195.87 L381.70,195.83 L382.70,196.02 L383.70,196.08 L384.70,196.44 L385.70,196.51 L386.70,195.92 L387.70,196.06 L388.70,196.16 L389.70,196.92 L390.70,196.83 L391.70,197.15 L392.70,196.73 L393.70,196.93 L394.70,197.69 L395.70,197.58 L396.70,197.28 L397.70,197.37 L398.70,198.11 L399.70,198.27 L400.70,197.74 L401.70,198.64 L402.70,197.99 L403.70,198.35 L404.70,198.68 L405.70,198.97 L406.70,199.14 L407.70,198.49 L408.70,198.81 L409.70,198.82 L410.70,198.88 L411.70,199.53 L412.70,199.17 L413.70,199.53 L414.70,199.88 L415.70,200.08 L416.70,199.97 L417.70,200.22 L418.70,200.29 L419.70,200.03 L420.70,200.13 L421.70,200.90 L422.70,200.37 L423.70,201.06 L424.70,200.40 L425.70,200.74 L426.70,201.16 L427.70,200.87 L428.70,201.66 L429.70,201.43 L430.70,201.76 L431.70,201.67 L432.70,201.93 L433.70,201.38 L434.70,201.68 L435.70,201.67 L436.70,201.89 L437.70,201.75 L438.70,201.85 L439.70,202.28 L440.70,202.76 L441.70,202.57 L442.70,202.66 L443.70,202.98 L444.70,202.76 L445.70,202.83 L446.70,202.93 L447.70,202.94 L448.70,202.68 L449.70,202.69 L450.70,203.44 L451.70,203.16 L452.70,203.52 L453.70,202.92 L454.70,203.39 L455.70,203.82 L456.70,203.07 L457.70,203.99 L458.70,203.50 L459.70,203.70 L460.70,203.86 L461.70,203.89 L462.70,203.70 L463.70,204.31 L464.70,203.79 L465.70,203.59 L466.70,203.65 L467.70,204.57 L468.70,203.97 L469.70,204.12 L470.70,204.40 L471.70,204.40" fill="none" stroke="#843a6c" stroke-width="1.1" stroke-linejoin="round"/><path d="M206.70,274.30 C212.25,274.28 232.28,274.33 240.00,274.20 C247.72,274.07 250.00,273.83 253.00,273.50 C256.00,273.17 256.63,273.08 258.00,272.20 C259.37,271.32 260.13,270.73 261.20,268.20 C262.27,265.67 263.33,261.28 264.40,257.00 C265.47,252.72 266.52,246.80 267.60,242.50 C268.68,238.20 269.82,233.75 270.90,231.20 C271.98,228.65 273.17,227.20 274.10,227.20 C275.03,227.20 275.70,229.32 276.50,231.20 C277.30,233.08 277.97,236.48 278.90,238.50 C279.83,240.52 281.03,242.50 282.10,243.30 C283.17,244.10 283.97,243.43 285.30,243.30 C286.63,243.17 287.98,242.47 290.10,242.50 C292.22,242.53 295.52,243.83 298.00,243.50 C300.48,243.17 302.17,242.70 305.00,240.50 C307.83,238.30 311.67,234.90 315.00,230.30 C318.33,225.70 321.67,217.13 325.00,212.90 C328.33,208.67 332.50,206.55 335.00,204.90 C337.50,203.25 337.50,203.23 340.00,203.00 C342.50,202.77 345.00,202.20 350.00,203.50 C355.00,204.80 361.67,208.15 370.00,210.80 C378.33,213.45 388.33,217.25 400.00,219.40 C411.67,221.55 428.00,222.62 440.00,223.70 C452.00,224.78 466.67,225.53 472.00,225.90" fill="none" stroke="#84a234" stroke-width="1.1" stroke-linejoin="round"/><path d="M206.70,295.30 C212.25,295.28 231.95,295.33 240.00,295.20 C248.05,295.07 251.67,295.12 255.00,294.50 C258.33,293.88 258.43,293.92 260.00,291.50 C261.57,289.08 263.13,284.68 264.40,280.00 C265.67,275.32 266.52,268.58 267.60,263.40 C268.68,258.22 269.95,252.25 270.90,248.90 C271.85,245.55 272.50,243.70 273.30,243.30 C274.10,242.90 274.90,244.50 275.70,246.50 C276.50,248.50 277.17,252.75 278.10,255.30 C279.03,257.85 280.10,260.45 281.30,261.80 C282.50,263.15 284.10,263.27 285.30,263.40 C286.50,263.53 287.17,262.60 288.50,262.60 C289.83,262.60 291.72,263.08 293.30,263.40 C294.88,263.72 296.05,264.73 298.00,264.50 C299.95,264.27 302.17,264.08 305.00,262.00 C307.83,259.92 311.67,256.62 315.00,252.00 C318.33,247.38 321.67,238.80 325.00,234.30 C328.33,229.80 331.67,226.33 335.00,225.00 C338.33,223.67 341.67,225.73 345.00,226.30 C348.33,226.87 350.83,227.40 355.00,228.40 C359.17,229.40 362.50,230.37 370.00,232.30 C377.50,234.23 388.33,238.00 400.00,240.00 C411.67,242.00 428.00,243.22 440.00,244.30 C452.00,245.38 466.67,246.13 472.00,246.50" fill="none" stroke="#4a84e8" stroke-width="1.1" stroke-linejoin="round"/><path d="M206.70,316.40 C212.25,316.38 231.95,316.57 240.00,316.30 C248.05,316.03 251.70,315.62 255.00,314.80 C258.30,313.98 258.47,313.72 259.80,311.40 C261.13,309.08 261.92,304.80 263.00,300.90 C264.08,297.00 265.35,291.82 266.30,288.00 C267.25,284.18 267.93,281.30 268.70,278.00 C269.47,274.70 270.00,270.77 270.90,268.20 C271.80,265.63 273.03,262.60 274.10,262.60 C275.17,262.60 276.37,265.63 277.30,268.20 C278.23,270.77 278.83,275.62 279.70,278.00 C280.57,280.38 281.12,281.37 282.50,282.50 C283.88,283.63 286.15,284.28 288.00,284.80 C289.85,285.32 292.13,285.43 293.60,285.60 C295.07,285.77 295.63,286.20 296.80,285.80 C297.97,285.40 299.02,284.57 300.60,283.20 C302.18,281.83 304.42,279.78 306.30,277.60 C308.18,275.42 310.02,272.92 311.90,270.10 C313.78,267.28 315.72,263.52 317.60,260.70 C319.48,257.88 321.33,255.23 323.20,253.20 C325.07,251.17 326.92,249.70 328.80,248.50 C330.68,247.30 332.62,246.32 334.50,246.00 C336.38,245.68 338.35,246.28 340.10,246.60 C341.85,246.92 343.35,247.58 345.00,247.90 C346.65,248.22 345.83,247.73 350.00,248.50 C354.17,249.27 361.67,250.42 370.00,252.50 C378.33,254.58 388.33,259.00 400.00,261.00 C411.67,263.00 428.00,263.42 440.00,264.50 C452.00,265.58 466.67,267.00 472.00,267.50" fill="none" stroke="#48d49c" stroke-width="1.1" stroke-linejoin="round"/><path d="M206.70,337.70 L207.70,337.70 L208.70,337.71 L209.70,337.72 L210.70,337.72 L211.70,337.73 L212.70,337.74 L213.70,337.75 L214.70,337.76 L215.70,337.77 L216.70,337.78 L217.70,337.79 L218.70,337.80 L219.70,337.81 L220.70,337.82 L221.70,337.83 L222.70,337.84 L223.70,337.85 L224.70,337.85 L225.70,337.86 L226.70,337.87 L227.70,337.88 L228.70,337.88 L229.70,337.89 L230.70,337.89 L231.70,337.90 L232.70,337.90 L233.70,337.90 L234.70,337.90 L235.70,337.90 L236.70,337.91 L237.70,337.91 L238.70,337.90 L239.70,337.89 L240.70,337.89 L241.70,337.88 L242.70,337.87 L243.70,337.85 L244.70,337.84 L245.70,337.82 L246.70,337.79 L247.70,337.75 L248.70,337.71 L249.70,337.65 L250.70,337.57 L251.70,337.46 L252.70,337.32 L253.70,337.05 L254.70,335.20 L255.70,334.33 L256.70,333.37 L257.70,332.26 L258.70,331.08 L259.70,329.91 L260.70,328.74 L261.70,327.48 L262.70,326.22 L263.70,325.07 L264.70,324.12 L265.70,323.37 L266.70,322.77 L267.70,322.27 L268.70,321.83 L269.70,321.42 L270.70,321.11 L271.70,320.87 L272.70,320.66 L273.70,320.40 L274.70,320.04 L275.70,319.63 L276.70,319.17 L277.70,318.65 L278.70,318.06 L279.70,317.38 L280.70,316.64 L281.70,315.82 L282.70,314.94 L283.70,314.00 L284.70,312.94 L285.70,311.74 L286.70,310.47 L287.70,309.24 L288.70,308.10 L289.70,306.98 L290.70,306.06 L291.70,305.43 L292.70,305.05 L293.70,304.78 L294.70,304.48 L295.70,304.12 L296.70,303.78 L297.70,303.45 L298.70,303.05 L299.70,302.56 L300.70,301.50 L301.70,301.46 L302.70,300.40 L303.70,298.76 L304.70,298.18 L305.70,296.82 L306.70,296.30 L307.70,295.14 L308.70,293.46 L309.70,292.53 L310.70,291.22 L311.70,289.84 L312.70,288.81 L313.70,287.61 L314.70,286.52 L315.70,285.80 L316.70,284.45 L317.70,282.67 L318.70,281.75 L319.70,281.07 L320.70,279.66 L321.70,278.35 L322.70,277.31 L323.70,276.42 L324.70,275.14 L325.70,274.63 L326.70,273.86 L327.70,273.20 L328.70,273.12 L329.70,272.08 L330.70,271.84 L331.70,272.01 L332.70,271.89 L333.70,271.07 L334.70,271.25 L335.70,270.89 L336.70,269.93 L337.70,270.26 L338.70,269.25 L339.70,269.20 L340.70,268.55 L341.70,268.27 L342.70,268.51 L343.70,268.41 L344.70,267.52 L345.70,267.54 L346.70,267.81 L347.70,267.68 L348.70,267.13 L349.70,267.50 L350.70,266.87 L351.70,267.58 L352.70,267.39 L353.70,267.51 L354.70,267.93 L355.70,267.54 L356.70,267.79 L357.70,268.48 L358.70,269.07 L359.70,269.49 L360.70,269.79 L361.70,270.09 L362.70,270.37 L363.70,271.31 L364.70,271.80 L365.70,272.67 L366.70,273.23 L367.70,273.63 L368.70,274.36 L369.70,274.53 L370.70,275.16 L371.70,276.12 L372.70,276.56 L373.70,276.42 L374.70,277.00 L375.70,277.57 L376.70,278.07 L377.70,278.21 L378.70,278.58 L379.70,279.45 L380.70,279.31 L381.70,279.71 L382.70,280.50 L383.70,280.26 L384.70,280.74 L385.70,280.69 L386.70,281.55 L387.70,281.77 L388.70,281.46 L389.70,282.01 L390.70,281.84 L391.70,282.53 L392.70,282.36 L393.70,282.30 L394.70,283.06 L395.70,282.80 L396.70,283.12 L397.70,283.68 L398.70,283.23 L399.70,283.52 L400.70,284.06 L401.70,283.69 L402.70,284.27 L403.70,284.18 L404.70,284.61 L405.70,284.40 L406.70,284.79 L407.70,284.56 L408.70,284.44 L409.70,284.67 L410.70,284.92 L411.70,285.15 L412.70,285.13 L413.70,285.16 L414.70,285.19 L415.70,285.52 L416.70,285.80 L417.70,285.87 L418.70,285.44 L419.70,285.75 L420.70,286.24 L421.70,286.18 L422.70,286.11 L423.70,286.49 L424.70,286.11 L425.70,286.64 L426.70,287.13 L427.70,286.71 L428.70,286.64 L429.70,287.22 L430.70,287.25 L431.70,287.10 L432.70,287.12 L433.70,287.00 L434.70,287.18 L435.70,287.89 L436.70,287.64 L437.70,288.12 L438.70,288.31 L439.70,288.19 L440.70,287.93 L441.70,287.79 L442.70,288.58 L443.70,288.00 L444.70,288.04 L445.70,288.37 L446.70,288.31 L447.70,288.39 L448.70,288.37 L449.70,288.34 L450.70,288.38 L451.70,289.27 L452.70,288.59 L453.70,288.96 L454.70,289.22 L455.70,289.23 L456.70,289.57 L457.70,289.72 L458.70,289.47 L459.70,289.38 L460.70,289.64 L461.70,289.45 L462.70,289.36 L463.70,289.71 L464.70,289.80 L465.70,289.63 L466.70,289.89 L467.70,289.88 L468.70,289.69 L469.70,290.55 L470.70,290.24 L471.70,290.34" fill="none" stroke="#b0603c" stroke-width="1.1" stroke-linejoin="round"/><path d="M206.8,15.1 V337.7 H471.5" fill="none" stroke="#1a1a1a" stroke-width="1.3"/><line x1="202.0" y1="337.70" x2="206.8" y2="337.70" stroke="#1a1a1a" stroke-width="1.2"/><line x1="203.8" y1="311.26" x2="206.8" y2="311.26" stroke="#1a1a1a" stroke-width="1.2"/><line x1="202.0" y1="284.82" x2="206.8" y2="284.82" stroke="#1a1a1a" stroke-width="1.2"/><line x1="203.8" y1="258.38" x2="206.8" y2="258.38" stroke="#1a1a1a" stroke-width="1.2"/><line x1="202.0" y1="231.93" x2="206.8" y2="231.93" stroke="#1a1a1a" stroke-width="1.2"/><line x1="203.8" y1="205.49" x2="206.8" y2="205.49" stroke="#1a1a1a" stroke-width="1.2"/><line x1="202.0" y1="179.05" x2="206.8" y2="179.05" stroke="#1a1a1a" stroke-width="1.2"/><line x1="203.8" y1="152.61" x2="206.8" y2="152.61" stroke="#1a1a1a" stroke-width="1.2"/><line x1="202.0" y1="126.17" x2="206.8" y2="126.17" stroke="#1a1a1a" stroke-width="1.2"/><line x1="203.8" y1="99.72" x2="206.8" y2="99.72" stroke="#1a1a1a" stroke-width="1.2"/><line x1="202.0" y1="73.28" x2="206.8" y2="73.28" stroke="#1a1a1a" stroke-width="1.2"/><line x1="203.8" y1="46.84" x2="206.8" y2="46.84" stroke="#1a1a1a" stroke-width="1.2"/><line x1="202.0" y1="20.40" x2="206.8" y2="20.40" stroke="#1a1a1a" stroke-width="1.2"/><text x="199.2" y="341.40" font-family="'Liberation Serif', serif" font-size="11" text-anchor="end" fill="#111">0</text><text x="199.2" y="288.52" font-family="'Liberation Serif', serif" font-size="11" text-anchor="end" fill="#111">1</text><text x="199.2" y="235.63" font-family="'Liberation Serif', serif" font-size="11" text-anchor="end" fill="#111">2</text><text x="199.2" y="182.75" font-family="'Liberation Serif', serif" font-size="11" text-anchor="end" fill="#111">3</text><text x="199.2" y="129.87" font-family="'Liberation Serif', serif" font-size="11" text-anchor="end" fill="#111">4</text><text x="199.2" y="76.98" font-family="'Liberation Serif', serif" font-size="11" text-anchor="end" fill="#111">5</text><text x="199.2" y="24.10" font-family="'Liberation Serif', serif" font-size="11" text-anchor="end" fill="#111">6</text><line x1="206.80" y1="337.7" x2="206.80" y2="340.9" stroke="#1a1a1a" stroke-width="1.2"/><line x1="233.30" y1="337.7" x2="233.30" y2="340.9" stroke="#1a1a1a" stroke-width="1.2"/><line x1="259.80" y1="337.7" x2="259.80" y2="342.5" stroke="#1a1a1a" stroke-width="1.2"/><line x1="286.30" y1="337.7" x2="286.30" y2="340.9" stroke="#1a1a1a" stroke-width="1.2"/><line x1="312.80" y1="337.7" x2="312.80" y2="340.9" stroke="#1a1a1a" stroke-width="1.2"/><line x1="339.30" y1="337.7" x2="339.30" y2="340.9" stroke="#1a1a1a" stroke-width="1.2"/><line x1="365.80" y1="337.7" x2="365.80" y2="342.5" stroke="#1a1a1a" stroke-width="1.2"/><line x1="392.30" y1="337.7" x2="392.30" y2="340.9" stroke="#1a1a1a" stroke-width="1.2"/><line x1="418.80" y1="337.7" x2="418.80" y2="340.9" stroke="#1a1a1a" stroke-width="1.2"/><line x1="445.30" y1="337.7" x2="445.30" y2="340.9" stroke="#1a1a1a" stroke-width="1.2"/><line x1="471.80" y1="337.7" x2="471.80" y2="342.5" stroke="#1a1a1a" stroke-width="1.2"/><text x="259.80" y="353.3" font-family="'Liberation Serif', serif" font-size="10" text-anchor="middle" fill="#111">8980</text><text x="365.80" y="353.3" font-family="'Liberation Serif', serif" font-size="10" text-anchor="middle" fill="#111">9000</text><text x="471.80" y="353.3" font-family="'Liberation Serif', serif" font-size="10" text-anchor="middle" fill="#111">9020</text><text x="339" y="368.5" font-family="'Liberation Serif', serif" font-size="12.3" text-anchor="middle" fill="#111">Energy, eV</text><text x="246" y="78.3" font-family="'Liberation Serif', serif" font-size="12.4" text-anchor="middle" fill="#111">A</text><text x="274.2" y="65.2" font-family="'Liberation Serif', serif" font-size="12.6" text-anchor="middle" fill="#111">B</text><text x="290.9" y="40.4" font-family="'Liberation Serif', serif" font-size="12.6" text-anchor="middle" fill="#111">C</text><text x="328.5" y="14.8" font-family="'Liberation Serif', serif" font-size="13" text-anchor="middle" fill="#111">D</text><text x="350.2" y="9.6" font-family="'Liberation Serif', serif" font-size="13" text-anchor="middle" fill="#111">E</text><text x="214" y="85.90" font-family="'Liberation Serif', serif" font-size="9.5" fill="#111">1.</text><text x="214" y="102.80" font-family="'Liberation Serif', serif" font-size="9.5" fill="#111">2.</text><text x="214" y="117.20" font-family="'Liberation Serif', serif" font-size="9.5" fill="#111">3.</text><text x="214" y="134.00" font-family="'Liberation Serif', serif" font-size="9.5" fill="#111">4.</text><text x="214" y="150.00" font-family="'Liberation Serif', serif" font-size="9.5" fill="#111">5.</text><text x="214" y="165.00" font-family="'Liberation Serif', serif" font-size="9.5" fill="#111">6.</text><text x="214" y="181.00" font-family="'Liberation Serif', serif" font-size="9.5" fill="#111">7.</text><text x="214" y="229.20" font-family="'Liberation Serif', serif" font-size="9.5" fill="#111">8.</text><text x="214" y="250.90" font-family="'Liberation Serif', serif" font-size="9.5" fill="#111">9.</text><text x="209.5" y="271.50" font-family="'Liberation Serif', serif" font-size="9.5" fill="#111">10.</text><text x="209.5" y="292.20" font-family="'Liberation Serif', serif" font-size="9.5" fill="#111">11.</text><text x="209.5" y="313.80" font-family="'Liberation Serif', serif" font-size="9.5" fill="#111">12.</text><text x="209.5" y="333.90" font-family="'Liberation Serif', serif" font-size="9.5" fill="#111">13.</text><line x1="478.5" y1="22.10" x2="652.5" y2="22.10" stroke="#9a9a9a" stroke-width="1"/><line x1="478.5" y1="41.70" x2="652.5" y2="41.70" stroke="#9a9a9a" stroke-width="1"/><line x1="478.5" y1="61.30" x2="652.5" y2="61.30" stroke="#9a9a9a" stroke-width="1"/><line x1="478.5" y1="80.90" x2="652.5" y2="80.90" stroke="#9a9a9a" stroke-width="1"/><line x1="478.5" y1="100.50" x2="652.5" y2="100.50" stroke="#9a9a9a" stroke-width="1"/><line x1="478.5" y1="120.10" x2="652.5" y2="120.10" stroke="#9a9a9a" stroke-width="1"/><line x1="478.5" y1="139.70" x2="652.5" y2="139.70" stroke="#9a9a9a" stroke-width="1"/><line x1="478.5" y1="159.30" x2="652.5" y2="159.30" stroke="#9a9a9a" stroke-width="1"/><line x1="478.5" y1="178.90" x2="652.5" y2="178.90" stroke="#9a9a9a" stroke-width="1"/><line x1="478.5" y1="198.50" x2="652.5" y2="198.50" stroke="#9a9a9a" stroke-width="1"/><line x1="478.5" y1="218.10" x2="652.5" y2="218.10" stroke="#9a9a9a" stroke-width="1"/><line x1="478.5" y1="237.70" x2="652.5" y2="237.70" stroke="#9a9a9a" stroke-width="1"/><line x1="478.5" y1="257.30" x2="652.5" y2="257.30" stroke="#9a9a9a" stroke-width="1"/><line x1="478.5" y1="276.90" x2="652.5" y2="276.90" stroke="#9a9a9a" stroke-width="1"/><line x1="496.6" y1="2.5" x2="496.6" y2="296.5" stroke="#9a9a9a" stroke-width="1"/><line x1="600.6" y1="2.5" x2="600.6" y2="296.5" stroke="#9a9a9a" stroke-width="1"/><rect x="478.5" y="2.5" width="174.00" height="294.00" fill="none" stroke="#3c3c3c" stroke-width="1"/><text x="488.4" y="17.6" font-family="'Liberation Serif', serif" font-size="12" text-anchor="middle" fill="#111">#</text><text x="549.5" y="16.80" font-family="'Liberation Serif', serif" font-size="8.8" text-anchor="middle" fill="#111">Gas composition</text><text x="604.6" y="16.80" font-family="'Liberation Serif', serif" font-size="8.8" fill="#111">fraction Cu<tspan font-size="4.8" dy="-4.20">2+</tspan></text><text x="493.80" y="36.40" font-family="'Liberation Serif', serif" font-size="8.8" text-anchor="end" fill="#111">1.</text><text x="599.40" y="36.40" font-family="'Liberation Serif', serif" font-size="8.8" text-anchor="end" fill="#111">O<tspan font-size="5.6" dy="2.20">2</tspan><tspan dy="-2.20"> + He, RT</tspan></text><text x="646.8" y="36.40" font-family="'Liberation Serif', serif" font-size="8.8" text-anchor="end" fill="#111">90% Cu<tspan font-size="4.8" dy="-4.20">2+</tspan></text><text x="493.80" y="56.00" font-family="'Liberation Serif', serif" font-size="8.8" text-anchor="end" fill="#111">2.</text><text x="599.40" y="56.00" font-family="'Liberation Serif', serif" font-size="8.8" text-anchor="end" fill="#111">O<tspan font-size="5.6" dy="2.20">2</tspan><tspan dy="-2.20"> + He</tspan></text><text x="646.8" y="56.00" font-family="'Liberation Serif', serif" font-size="8.8" text-anchor="end" fill="#111">95% Cu<tspan font-size="4.8" dy="-4.20">2+</tspan></text><text x="493.80" y="75.60" font-family="'Liberation Serif', serif" font-size="8.8" text-anchor="end" fill="#111">3.</text><text x="599.40" y="75.60" font-family="'Liberation Serif', serif" font-size="8.8" text-anchor="end" fill="#111">He</text><text x="646.8" y="75.60" font-family="'Liberation Serif', serif" font-size="8.8" text-anchor="end" fill="#111">40% Cu<tspan font-size="4.8" dy="-4.20">2+</tspan></text><text x="493.80" y="95.20" font-family="'Liberation Serif', serif" font-size="8.8" text-anchor="end" fill="#111">4.</text><text x="599.40" y="95.20" font-family="'Liberation Serif', serif" font-size="8.8" text-anchor="end" fill="#111">O<tspan font-size="5.6" dy="2.20">2</tspan><tspan dy="-2.20"> + He + H</tspan><tspan font-size="5.6" dy="2.20">2</tspan><tspan dy="-2.20">O</tspan></text><text x="646.8" y="95.20" font-family="'Liberation Serif', serif" font-size="8.8" text-anchor="end" fill="#111">90% Cu<tspan font-size="4.8" dy="-4.20">2+</tspan></text><text x="493.80" y="114.80" font-family="'Liberation Serif', serif" font-size="8.8" text-anchor="end" fill="#111">5.</text><text x="599.40" y="114.80" font-family="'Liberation Serif', serif" font-size="8.8" text-anchor="end" fill="#111">NO + O<tspan font-size="5.6" dy="2.20">2</tspan><tspan dy="-2.20"> + He + H</tspan><tspan font-size="5.6" dy="2.20">2</tspan><tspan dy="-2.20">O</tspan></text><text x="646.8" y="114.80" font-family="'Liberation Serif', serif" font-size="8.8" text-anchor="end" fill="#111">100% Cu<tspan font-size="4.8" dy="-4.20">2+</tspan></text><text x="493.80" y="134.40" font-family="'Liberation Serif', serif" font-size="8.8" text-anchor="end" fill="#111">6.</text><text x="599.40" y="134.40" font-family="'Liberation Serif', serif" font-size="8.8" text-anchor="end" fill="#111">NO + O<tspan font-size="5.6" dy="2.20">2</tspan><tspan dy="-2.20"> + He</tspan></text><text x="646.8" y="134.40" font-family="'Liberation Serif', serif" font-size="8.8" text-anchor="end" fill="#111">100% Cu<tspan font-size="4.8" dy="-4.20">2+</tspan></text><text x="493.80" y="154.00" font-family="'Liberation Serif', serif" font-size="8.8" text-anchor="end" fill="#111">7.</text><text x="599.40" y="154.00" font-family="'Liberation Serif', serif" font-size="8.8" text-anchor="end" fill="#111">NO + He</text><text x="646.8" y="154.00" font-family="'Liberation Serif', serif" font-size="8.8" text-anchor="end" fill="#111">100% Cu<tspan font-size="4.8" dy="-4.20">2+</tspan></text><text x="493.80" y="193.20" font-family="'Liberation Serif', serif" font-size="8.8" text-anchor="end" fill="#111">8.</text><text x="599.40" y="193.20" font-family="'Liberation Serif', serif" font-size="8.8" text-anchor="end" fill="#111">NH<tspan font-size="5.6" dy="2.20">3</tspan><tspan dy="-2.20"> + O</tspan><tspan font-size="5.6" dy="2.20">2</tspan><tspan dy="-2.20"> + He</tspan></text><text x="646.8" y="193.20" font-family="'Liberation Serif', serif" font-size="8.8" text-anchor="end" fill="#111">50% Cu<tspan font-size="4.8" dy="-4.20">2+</tspan></text><text x="493.80" y="212.80" font-family="'Liberation Serif', serif" font-size="8.8" text-anchor="end" fill="#111">9.</text><text x="599.40" y="212.80" font-family="'Liberation Serif', serif" font-size="8.8" text-anchor="end" fill="#111">NH<tspan font-size="5.6" dy="2.20">3</tspan><tspan dy="-2.20"> + He</tspan></text><text x="647" y="212.80" font-family="'Liberation Serif', serif" font-size="8.8" text-anchor="end" fill="#111">n.a.</text><text x="493.80" y="232.40" font-family="'Liberation Serif', serif" font-size="8.8" text-anchor="end" fill="#111">10.</text><text x="599.40" y="232.40" font-family="'Liberation Serif', serif" font-size="8.8" text-anchor="end" fill="#111">NH<tspan font-size="5.6" dy="2.20">3</tspan><tspan dy="-2.20"> + O</tspan><tspan font-size="5.6" dy="2.20">2</tspan><tspan dy="-2.20"> + He + H</tspan><tspan font-size="5.6" dy="2.20">2</tspan><tspan dy="-2.20">O</tspan></text><text x="646.8" y="232.40" font-family="'Liberation Serif', serif" font-size="8.8" text-anchor="end" fill="#111">45% Cu<tspan font-size="4.8" dy="-4.20">2+</tspan></text><text x="493.80" y="252.00" font-family="'Liberation Serif', serif" font-size="8.8" text-anchor="end" fill="#111">11.</text><text x="599.40" y="252.00" font-family="'Liberation Serif', serif" font-size="8.8" text-anchor="end" fill="#111">NH<tspan font-size="5.6" dy="2.20">3</tspan><tspan dy="-2.20"> + NO + O</tspan><tspan font-size="5.6" dy="2.20">2</tspan><tspan dy="-2.20"> + He + H</tspan><tspan font-size="5.6" dy="2.20">2</tspan><tspan dy="-2.20">O</tspan></text><text x="646.8" y="252.00" font-family="'Liberation Serif', serif" font-size="8.8" text-anchor="end" fill="#111">45% Cu<tspan font-size="4.8" dy="-4.20">2+</tspan></text><text x="493.80" y="271.60" font-family="'Liberation Serif', serif" font-size="8.8" text-anchor="end" fill="#111">12.</text><text x="599.40" y="271.60" font-family="'Liberation Serif', serif" font-size="8.8" text-anchor="end" fill="#111">NH<tspan font-size="5.6" dy="2.20">3</tspan><tspan dy="-2.20"> + NO + O</tspan><tspan font-size="5.6" dy="2.20">2</tspan><tspan dy="-2.20"> + He</tspan></text><text x="646.8" y="271.60" font-family="'Liberation Serif', serif" font-size="8.8" text-anchor="end" fill="#111">40% Cu<tspan font-size="4.8" dy="-4.20">2+</tspan></text><text x="493.80" y="291.20" font-family="'Liberation Serif', serif" font-size="8.8" text-anchor="end" fill="#111">13.</text><text x="599.40" y="291.20" font-family="'Liberation Serif', serif" font-size="8.8" text-anchor="end" fill="#111">NO + He, prereduced</text><text x="647" y="291.20" font-family="'Liberation Serif', serif" font-size="8.8" text-anchor="end" fill="#111">n.a.</text></svg></body></html>
